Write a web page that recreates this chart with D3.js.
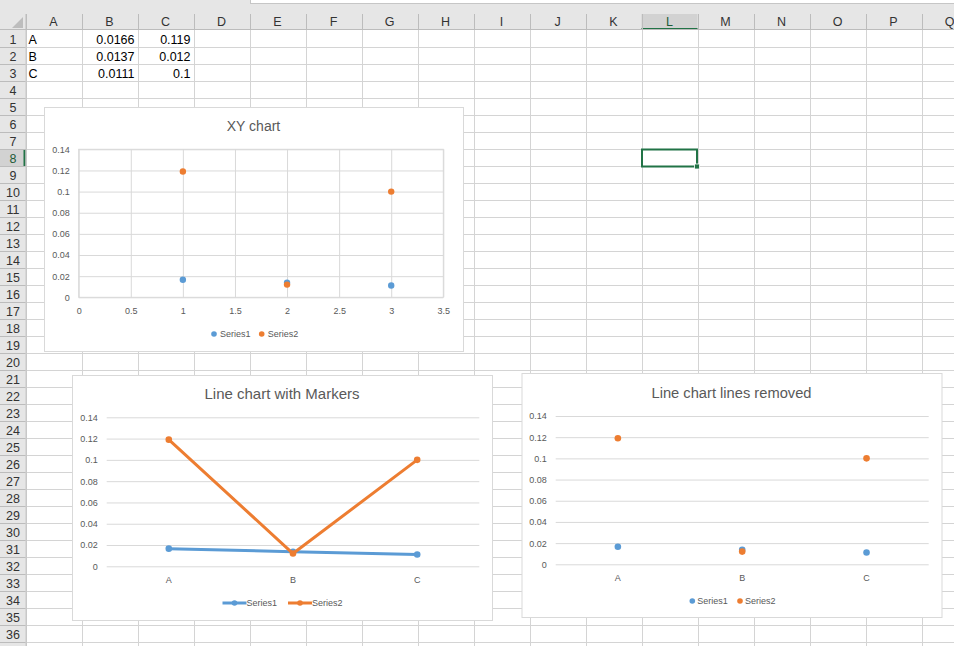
<!DOCTYPE html>
<html><head><meta charset="utf-8">
<script src="https://cdn.jsdelivr.net/npm/d3@7"></script>
<style>
html,body{margin:0;padding:0;background:#fff;overflow:hidden}
svg{display:block;font-family:"Liberation Sans",Arial,sans-serif}
</style></head>
<body>
<svg id="s" width="954" height="646"></svg>
<script>
// ---- data ----
const categories = ["A","B","C"];
const xValues = [1,2,3];
const series1 = [0.0166,0.0137,0.0111];
const series2 = [0.119,0.012,0.1];
const seriesNames = ["Series1","Series2"];
const yTicks = [0,0.02,0.04,0.06,0.08,0.1,0.12,0.14];
const xTicks = [0,0.5,1,1.5,2,2.5,3,3.5];
const columnLetters = ["A","B","C","D","E","F","G","H","I","J","K","L","M","N","O","P","Q"];
const cellRows = [["A","0.0166","0.119"],["B","0.0137","0.012"],["C","0.0111","0.1"]];
const chartTitles = ["XY chart","Line chart with Markers","Line chart lines removed"];

const colors = ["#5b9bd5","#ed7d31"];
const svg = d3.select("#s");
const W=954,H=646;
const colX0=25.5, colW=56, rowY0=30, rowH=17, nRows=36;
const gridC="#d4d4d4", hdrBg="#e6e6e6", hdrLine="#bcbcbc", green="#217346";

// ---- spreadsheet ----
svg.append("rect").attr("width",W).attr("height",H).attr("fill","#fff");
svg.append("rect").attr("width",W).attr("height",rowY0).attr("fill",hdrBg);
svg.append("rect").attr("x",0).attr("y",rowY0).attr("width",colX0).attr("height",H-rowY0).attr("fill",hdrBg);
// formula bar
svg.append("rect").attr("x",250.5).attr("y",-2).attr("width",720).attr("height",5.5).attr("fill","#fff").attr("stroke","#c6c6c6");
// selected headers
const selCol=11, selRow=8;
svg.append("rect").attr("x",colX0+selCol*colW).attr("y",14).attr("width",colW).attr("height",rowY0-14).attr("fill","#d2d2d2");
svg.append("rect").attr("x",colX0+selCol*colW).attr("y",rowY0-2).attr("width",colW).attr("height",2).attr("fill",green);
svg.append("rect").attr("x",0).attr("y",rowY0+(selRow-1)*rowH).attr("width",colX0).attr("height",rowH).attr("fill","#d2d2d2");
svg.append("rect").attr("x",colX0-2).attr("y",rowY0+(selRow-1)*rowH).attr("width",2).attr("height",rowH).attr("fill",green);

// grid lines
const g = svg.append("g");
for(let k=0;k<=columnLetters.length;k++){
  const x=Math.round(colX0+k*colW)+0.5;
  g.append("line").attr("x1",x).attr("x2",x).attr("y1",rowY0).attr("y2",H).attr("stroke",gridC);
  g.append("line").attr("x1",x).attr("x2",x).attr("y1",14).attr("y2",rowY0).attr("stroke",hdrLine);
}
for(let r=1;r<=nRows;r++){
  const y=rowY0+r*rowH+0.5;
  g.append("line").attr("x1",colX0).attr("x2",W).attr("y1",y).attr("y2",y).attr("stroke",gridC);
  g.append("line").attr("x1",0).attr("x2",colX0).attr("y1",y).attr("y2",y).attr("stroke",hdrLine);
}
g.append("line").attr("x1",0).attr("x2",W).attr("y1",rowY0-0.5).attr("y2",rowY0-0.5).attr("stroke",hdrLine);
g.append("line").attr("x1",colX0+0.5).attr("x2",colX0+0.5).attr("y1",14).attr("y2",H).attr("stroke",hdrLine);
// corner triangle
svg.append("path").attr("d","M23,17 L23,28 L12,28 Z").attr("fill","#bdbdbd");

// header text
columnLetters.forEach((c,k)=>{
  svg.append("text").attr("x",colX0+k*colW+colW/2).attr("y",26).attr("text-anchor","middle")
    .attr("font-size",12.5).attr("fill",k===selCol?"#1e5c38":"#333").text(c);
});
for(let r=1;r<=nRows;r++){
  svg.append("text").attr("x",13).attr("y",rowY0+(r-1)*rowH+14).attr("text-anchor","middle")
    .attr("font-size",12.5).attr("fill",r===selRow?"#1e5c38":"#333").text(r);
}
// cells
cellRows.forEach((row,i)=>{
  const y=rowY0+i*rowH+14;
  svg.append("text").attr("x",colX0+3).attr("y",y).attr("font-size",12.5).attr("fill","#000").text(row[0]);
  svg.append("text").attr("x",colX0+2*colW-3).attr("y",y).attr("text-anchor","end").attr("font-size",12.5).attr("fill","#000").text(row[1]);
  svg.append("text").attr("x",colX0+3*colW-3).attr("y",y).attr("text-anchor","end").attr("font-size",12.5).attr("fill","#000").text(row[2]);
});
// selected cell
const sx=colX0+selCol*colW, sy=rowY0+(selRow-1)*rowH;
svg.append("rect").attr("x",sx+0.5).attr("y",sy+0.5).attr("width",colW-1).attr("height",rowH).attr("fill","none").attr("stroke",green).attr("stroke-width",2);
svg.append("rect").attr("x",sx+colW-3).attr("y",sy+rowH-2).attr("width",5).attr("height",5).attr("fill",green).attr("stroke","#fff").attr("stroke-width",0.8);

// ---- charts ----
const fmt = v => String(+v.toFixed(2));
const txtC="#595959", chartGrid="#d9d9d9";

function frame(c){
  const cg=svg.append("g");
  cg.append("rect").attr("x",c.fx0+0.5).attr("y",c.fy0+0.5).attr("width",c.fx1-c.fx0).attr("height",c.fy1-c.fy0)
    .attr("fill","#fff").attr("stroke",chartGrid);
  cg.append("text").attr("x",(c.fx0+c.fx1)/2).attr("y",c.titleY+5).attr("text-anchor","middle")
    .attr("font-size",c.titleSize).attr("fill",txtC).text(c.title);
  return cg;
}
function yAxis(cg,c,y){
  const ax=cg.append("g").attr("transform",`translate(${c.px0},0)`)
    .call(d3.axisLeft(y).tickValues(yTicks).tickFormat(fmt).tickSize(-(c.px1-c.px0)).tickPadding(9));
  ax.select(".domain").remove();
  ax.selectAll(".tick line").attr("stroke",chartGrid);
  ax.selectAll(".tick text").attr("fill",txtC).attr("font-size",9).attr("font-family","Liberation Sans, Arial, sans-serif");
}

// Chart 1 : XY
(function(){
  const c={fx0:44,fx1:463,fy0:107,fy1:351,px0:78.7,px1:443.3,py0:149.3,py1:297.3,titleY:126,labY:311,legY:334,title:chartTitles[0],titleSize:14};
  const cg=frame(c);
  const x=d3.scaleLinear().domain([0,3.5]).range([c.px0,c.px1]);
  const y=d3.scaleLinear().domain([0,0.14]).range([c.py1,c.py0]);
  const ax=cg.append("g").attr("transform",`translate(0,${c.py1})`)
    .call(d3.axisBottom(x).tickValues(xTicks).tickFormat(d=>String(d)).tickSize(-(c.py1-c.py0)).tickPadding(c.labY-c.py1-3));
  ax.select(".domain").remove();
  ax.selectAll(".tick line").attr("stroke",chartGrid);
  ax.selectAll(".tick text").attr("fill",txtC).attr("font-size",9).attr("font-family","Liberation Sans, Arial, sans-serif");
  yAxis(cg,c,y);
  cg.append("rect").attr("x",c.px0).attr("y",c.py0).attr("width",c.px1-c.px0).attr("height",c.py1-c.py0).attr("fill","none").attr("stroke",chartGrid);
  [series1,series2].forEach((s,si)=>{
    cg.selectAll(null).data(s).enter().append("circle")
      .attr("cx",(d,i)=>x(xValues[i])).attr("cy",d=>y(d)).attr("r",3.2).attr("fill",colors[si]);
  });
  const lx=[214,261.7];
  seriesNames.forEach((n,i)=>{
    cg.append("circle").attr("cx",lx[i]).attr("cy",c.legY).attr("r",2.8).attr("fill",colors[i]);
    cg.append("text").attr("x",lx[i]+6).attr("y",c.legY+3.3).attr("font-size",9).attr("fill",txtC).text(n);
  });
})();

// Line charts
function lineChart(c,withLines){
  const cg=frame(c);
  const x=d3.scalePoint().domain(categories).range([c.px0,c.px1]).padding(0.5);
  const y=d3.scaleLinear().domain([0,0.14]).range([c.py1,c.py0]);
  yAxis(cg,c,y);
  categories.forEach(k=>{
    cg.append("text").attr("x",x(k)).attr("y",c.labY+3.3).attr("text-anchor","middle").attr("font-size",9).attr("fill",txtC).text(k);
  });
  [series1,series2].forEach((s,si)=>{
    if(withLines){
      cg.append("path").datum(s).attr("fill","none").attr("stroke",colors[si]).attr("stroke-width",3).attr("stroke-linejoin","round")
        .attr("d",d3.line().x((d,i)=>x(categories[i])).y(d=>y(d)));
    }
    cg.selectAll(null).data(s).enter().append("circle")
      .attr("cx",(d,i)=>x(categories[i])).attr("cy",d=>y(d)).attr("r",3.3).attr("fill",colors[si]);
  });
  seriesNames.forEach((n,i)=>{
    const lx=c.legX[i];
    if(withLines){
      cg.append("line").attr("x1",lx-12).attr("x2",lx+12).attr("y1",c.legY).attr("y2",c.legY).attr("stroke",colors[i]).attr("stroke-width",3);
      cg.append("circle").attr("cx",lx).attr("cy",c.legY).attr("r",2.8).attr("fill",colors[i]);
      cg.append("text").attr("x",lx+12).attr("y",c.legY+3.3).attr("font-size",9).attr("fill",txtC).text(n);
    } else {
      cg.append("circle").attr("cx",lx).attr("cy",c.legY).attr("r",2.8).attr("fill",colors[i]);
      cg.append("text").attr("x",lx+5).attr("y",c.legY+3.3).attr("font-size",9).attr("fill",txtC).text(n);
    }
  });
}
lineChart({fx0:72,fx1:492,fy0:375,fy1:620,px0:106.7,px1:479.3,py0:417.3,py1:566.3,titleY:394,labY:579.7,legY:603,legX:[234.5,300],title:chartTitles[1],titleSize:15},true);
lineChart({fx0:521.5,fx1:941.5,fy0:373,fy1:617,px0:555.7,px1:928.7,py0:416,py1:564.3,titleY:392.7,labY:577.7,legY:601,legX:[692.3,740],title:chartTitles[2],titleSize:14.7},false);
</script>
</body></html>
